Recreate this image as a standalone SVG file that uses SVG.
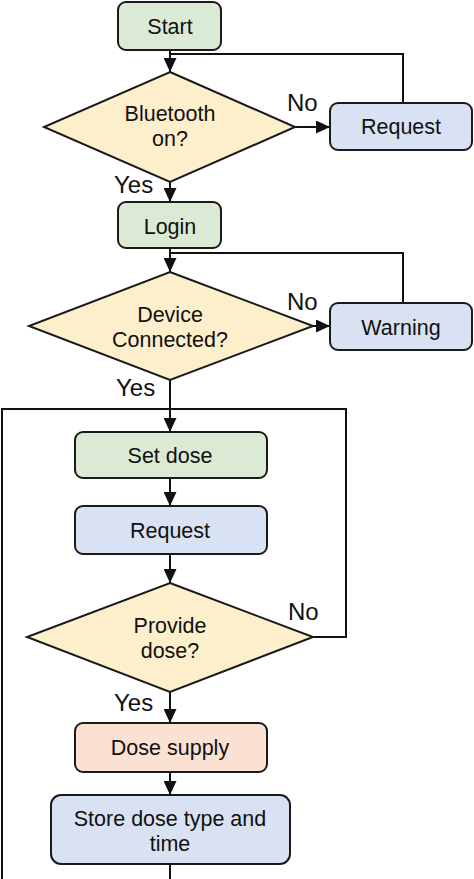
<svg xmlns="http://www.w3.org/2000/svg" width="474" height="879" viewBox="0 0 474 879">
<defs>
<marker id="arr" viewBox="0 0 14 13" refX="14" refY="6.5" markerWidth="14" markerHeight="13" markerUnits="userSpaceOnUse" orient="auto">
<path d="M0,0 L14,6.5 L0,13 Z" fill="#111"/>
</marker>
</defs>
<style>
.box{stroke:#1a1a1a;stroke-width:2}
.g{fill:#dbead5}
.b{fill:#d9e2f3}
.y{fill:#fdefcb}
.o{fill:#fbe1d1}
.t{font-family:"Liberation Sans",Arial,sans-serif;font-size:21.5px;fill:#111;text-anchor:middle}
.l{font-family:"Liberation Sans",Arial,sans-serif;font-size:24px;fill:#111}
.c{fill:none;stroke:#111;stroke-width:2}
</style>
<rect width="474" height="879" fill="#fff"/>
<g id="connectors">
<path class="c" d="M170,50 V72" marker-end="url(#arr)"/>
<path class="c" d="M295,127 H330" marker-end="url(#arr)"/>
<path class="c" d="M403,103 V54 H170"/>
<path class="c" d="M170,182 V202" marker-end="url(#arr)"/>
<path class="c" d="M170,248 V272" marker-end="url(#arr)"/>
<path class="c" d="M403,303 V253 H170"/>
<path class="c" d="M313,326 H330" marker-end="url(#arr)"/>
<path class="c" d="M170,380 V432" marker-end="url(#arr)"/>
<path class="c" d="M2,881 V409 H346 V637 H313"/>
<path class="c" d="M170,478 V506" marker-end="url(#arr)"/>
<path class="c" d="M170,554 V583" marker-end="url(#arr)"/>
<path class="c" d="M170,692 V723" marker-end="url(#arr)"/>
<path class="c" d="M170,772 V795" marker-end="url(#arr)"/>
<path class="c" d="M170,864 V881"/>
<text class="l" x="287" y="111">No</text>
<text class="l" x="114" y="193">Yes</text>
<text class="l" x="287" y="310">No</text>
<text class="l" x="116" y="396">Yes</text>
<text class="l" x="288" y="620">No</text>
<text class="l" x="114" y="711">Yes</text>
</g>
<g id="start"><rect class="box g" x="118" y="2" width="103" height="48" rx="8"/><text class="t" x="170" y="34">Start</text></g>
<g id="bluetooth"><polygon class="box y" points="170,72 295,127 170,182 44,127"/><text class="t" x="170" y="121">Bluetooth</text><text class="t" x="170" y="146">on?</text></g>
<g id="request1"><rect class="box b" x="330" y="103" width="142" height="47" rx="8"/><text class="t" x="401" y="134">Request</text></g>
<g id="login"><rect class="box g" x="118" y="202" width="103" height="46" rx="8"/><text class="t" x="170" y="234">Login</text></g>
<g id="device"><polygon class="box y" points="170,272 313,326 170,380 29,326"/><text class="t" x="170" y="322">Device</text><text class="t" x="170" y="347">Connected?</text></g>
<g id="warning"><rect class="box b" x="330" y="303" width="142" height="47" rx="8"/><text class="t" x="401" y="335">Warning</text></g>
<g id="setdose"><rect class="box g" x="75" y="432" width="192" height="46" rx="8"/><text class="t" x="170" y="463">Set dose</text></g>
<g id="request2"><rect class="box b" x="75" y="506" width="192" height="48" rx="8"/><text class="t" x="170" y="538">Request</text></g>
<g id="provide"><polygon class="box y" points="170,583 313,637 170,692 27,637"/><text class="t" x="170" y="633">Provide</text><text class="t" x="170" y="658">dose?</text></g>
<g id="supply"><rect class="box o" x="75" y="723" width="192" height="49" rx="8"/><text class="t" x="170" y="755">Dose supply</text></g>
<g id="store"><rect class="box b" x="51" y="795" width="239" height="69" rx="10"/><text class="t" x="170" y="826">Store dose type and</text><text class="t" x="170" y="851">time</text></g>
</svg>
